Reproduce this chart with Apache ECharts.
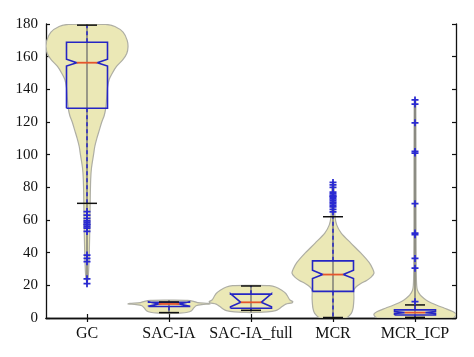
<!DOCTYPE html>
<html>
<head>
<meta charset="utf-8">
<script src="https://cdn.jsdelivr.net/npm/echarts@6/dist/echarts.min.js"></script>
<style>
html,body{margin:0;padding:0;background:#fff;}
#main{width:474px;height:357px;}
</style>
</head>
<body>
<div id="main"></div>
<script>
// ---- data ----
var categories = ['GC', 'SAC-IA', 'SAC-IA_full', 'MCR', 'MCR_ICP'];
var yTicks = [0, 20, 40, 60, 80, 100, 120, 140, 160, 180];

// box statistics per category
var whiskerLow  = [70.2, 3.3, 4.7, 0.3, 0.4];
var q1          = [128.4, 7.0, 6.0, 16.3, 1.8];
var notchLow    = [154.3, 7.2, 6.8, 24.2, 2.8];
var median      = [156.3, 8.6, 9.6, 26.6, 3.3];
var notchHigh   = [158.4, 10.0, 14.9, 29.2, 3.9];
var q3          = [168.8, 9.6, 14.6, 35.0, 5.0];
var whiskerHigh = [179.3, 9.8, 19.6, 62.0, 8.0];

// outliers per category
var outliersGC = [65.2, 63, 61, 59.5, 58.5, 57.5, 57, 56, 55, 53, 38.5, 36.5, 34.5, 24, 21];
var outliersSACIA = [];
var outliersSACIAfull = [];
var outliersMCR = [83, 81.5, 80, 77, 76, 75, 74.5, 74, 73, 72, 71, 70, 69, 68, 66.5, 65];
var outliersMCRICP = [133.5, 131, 119.5, 102, 101, 70, 52, 51, 36.5, 30.5, 10];

// violin density profiles: [value, half-width as fraction of half a category band]
var violinGC = [[180,0],[179.8,0.45],[178.5,0.68],[175,0.88],[170,0.98],[166,1.0],[162,0.97],[158,0.87],[154,0.72],[150,0.62],[146,0.54],[141,0.5],[135,0.48],[129,0.46],[124,0.42],[120,0.36],[115,0.3],[110,0.24],[105,0.19],[100,0.16],[92,0.11],[85,0.09],[75,0.08],[65,0.075],[56,0.07],[45,0.06],[35,0.05],[25,0.03],[20.5,0]];
var violinSACIA = [[11,0],[10.8,0.45],[10.2,0.6],[9.4,0.7],[8.9,0.95],[8.6,1.0],[8.2,0.8],[7.5,0.66],[6,0.6],[4.5,0.55],[3.5,0.45],[3,0.25],[2.7,0]];
var violinSACIAfull = [[20,0],[19.8,0.45],[19,0.6],[17,0.75],[15,0.85],[13,0.9],[11,0.95],[10,1.02],[9.3,1.0],[8.5,0.85],[7,0.76],[5.5,0.68],[4.5,0.6],[3.8,0.4],[3.3,0]];
var violinMCR = [[83,0],[82,0.025],[70,0.03],[62,0.05],[57,0.09],[52,0.2],[46,0.43],[40,0.67],[34,0.88],[30,0.97],[27.5,1.0],[25,0.93],[23,0.82],[21,0.67],[19,0.56],[17,0.51],[12,0.51],[6,0.49],[3,0.45],[1,0.38],[0,0.33]];
var violinMCRICP = [[134,0],[133,0.02],[60,0.025],[30,0.03],[20,0.04],[17,0.06],[14,0.13],[12,0.22],[10,0.34],[8,0.52],[6,0.72],[4,0.92],[2.5,1.0],[1,0.98],[0,0.92]];

var violins = [violinGC, violinSACIA, violinSACIAfull, violinMCR, violinMCRICP];
var outliers = [outliersGC, outliersSACIA, outliersSACIAfull, outliersMCR, outliersMCRICP];

// ---- styles ----
var VIOLIN_FILL = '#ebe8b6';
var VIOLIN_EDGE = '#aeaea4';
var BOX_BLUE = '#2525c4';
var MEDIAN_RED = '#e4552c';
var SERIF = '"Liberation Serif","DejaVu Serif",serif';

var chart = echarts.init(document.getElementById('main'), null, {renderer: 'canvas'});

function violinRender(params, api) {
  var i = params.dataIndex;
  var prof = violins[i];
  var band = api.size([1, 0])[0];
  var half = band / 2;
  var right = [], left = [];
  for (var k = 0; k < prof.length; k++) {
    var c = api.coord([i, prof[k][0]]);
    right.push([c[0] + prof[k][1] * half, c[1]]);
    left.unshift([c[0] - prof[k][1] * half, c[1]]);
  }
  var pts = right.concat(left);
  var top = api.coord([i, prof[0][0]]);
  var bot = api.coord([i, prof[prof.length - 1][0]]);
  return {
    type: 'group',
    children: [
      {type: 'polygon', shape: {points: pts, smooth: 0.25},
       style: {fill: VIOLIN_FILL, stroke: VIOLIN_EDGE, lineWidth: 1.2}},
      {type: 'line', shape: {x1: top[0], y1: top[1], x2: bot[0], y2: bot[1]},
       style: {stroke: '#6e6e6e', lineWidth: 1.3}}
    ]
  };
}

function boxRender(params, api) {
  var i = params.dataIndex;
  var band = api.size([1, 0])[0];
  var bw = band * 0.25;      // half box width
  var ind = bw * 0.5;        // notch indent
  var cw = band * 0.122;     // half cap width
  var cx = api.coord([i, 0])[0];
  function Y(v) { return api.coord([i, v])[1]; }
  var L = cx - bw, R = cx + bw;
  var outline = [
    [L, Y(q1[i])], [L, Y(notchLow[i])], [L + ind, Y(median[i])], [L, Y(notchHigh[i])], [L, Y(q3[i])],
    [R, Y(q3[i])], [R, Y(notchHigh[i])], [R - ind, Y(median[i])], [R, Y(notchLow[i])], [R, Y(q1[i])],
    [L, Y(q1[i])]
  ];
  var children = [
    {type: 'line', shape: {x1: cx, y1: Y(q3[i]), x2: cx, y2: Y(whiskerHigh[i])},
     style: {stroke: BOX_BLUE, lineWidth: 1.5, lineDash: [4, 3]}},
    {type: 'line', shape: {x1: cx, y1: Y(q1[i]), x2: cx, y2: Y(whiskerLow[i])},
     style: {stroke: BOX_BLUE, lineWidth: 1.5, lineDash: [4, 3]}},
    {type: 'polyline', shape: {points: outline},
     style: {stroke: BOX_BLUE, fill: null, lineWidth: 1.6}},
    {type: 'line', shape: {x1: L + ind, y1: Y(median[i]), x2: R - ind, y2: Y(median[i])},
     style: {stroke: MEDIAN_RED, lineWidth: 1.8}},
    {type: 'line', shape: {x1: cx - cw, y1: Y(whiskerHigh[i]), x2: cx + cw, y2: Y(whiskerHigh[i])},
     style: {stroke: '#111', lineWidth: 1.5}},
    {type: 'line', shape: {x1: cx - cw, y1: Y(whiskerLow[i]), x2: cx + cw, y2: Y(whiskerLow[i])},
     style: {stroke: '#111', lineWidth: 1.5}}
  ];
  return {type: 'group', children: children};
}

var catData = categories.map(function (c, i) { return [i, median[i]]; });
var outlierData = [];
outliers.forEach(function (arr, i) {
  arr.forEach(function (v) { outlierData.push([i, v]); });
});

var axisLineStyle = {show: true, lineStyle: {color: '#111', width: 1.3}};
var tickStyle = {show: true, inside: true, length: 4, lineStyle: {color: '#111', width: 1.2}};

chart.setOption({
  animation: false,
  backgroundColor: '#fff',
  grid: {left: 46, right: 18, top: 24, bottom: 39, containLabel: false},
  xAxis: [
    {type: 'category', data: categories, position: 'bottom', boundaryGap: true,
     axisLine: axisLineStyle,
     axisTick: Object.assign({alignWithLabel: true, interval: 0}, tickStyle),
     axisLabel: {fontFamily: SERIF, fontSize: 16, color: '#111', margin: 8, interval: 0, hideOverlap: false},
     splitLine: {show: false}},
    {type: 'category', data: categories, position: 'top', boundaryGap: true,
     axisLine: axisLineStyle,
     axisTick: Object.assign({alignWithLabel: true, interval: 0}, tickStyle),
     axisLabel: {show: false, interval: 0}, splitLine: {show: false}}
  ],
  yAxis: [
    {type: 'value', min: yTicks[0], max: yTicks[yTicks.length - 1], interval: 20,
     axisLine: axisLineStyle, axisTick: tickStyle,
     axisLabel: {fontFamily: SERIF, fontSize: 15, color: '#111', margin: 8},
     splitLine: {show: false}},
    {type: 'value', min: yTicks[0], max: yTicks[yTicks.length - 1], interval: 20, position: 'right',
     axisLine: axisLineStyle, axisTick: tickStyle,
     axisLabel: {show: false}, splitLine: {show: false}}
  ],
  series: [
    {type: 'custom', name: 'violin', xAxisIndex: 0, yAxisIndex: 0, clip: true,
     renderItem: violinRender, data: catData, encode: {x: 0, y: 1}, z: 2},
    {type: 'custom', name: 'box', xAxisIndex: 0, yAxisIndex: 0, clip: true,
     renderItem: boxRender, data: catData, encode: {x: 0, y: 1}, z: 3},
    {type: 'scatter', name: 'outliers', xAxisIndex: 0, yAxisIndex: 0,
     symbol: 'path://M3,0h2v3h3v2h-3v3h-2v-3h-3v-2h3z', symbolSize: 7,
     itemStyle: {color: '#2a2ad2', opacity: 1},
     data: outlierData, z: 4}
  ]
});
</script>
</body>
</html>
